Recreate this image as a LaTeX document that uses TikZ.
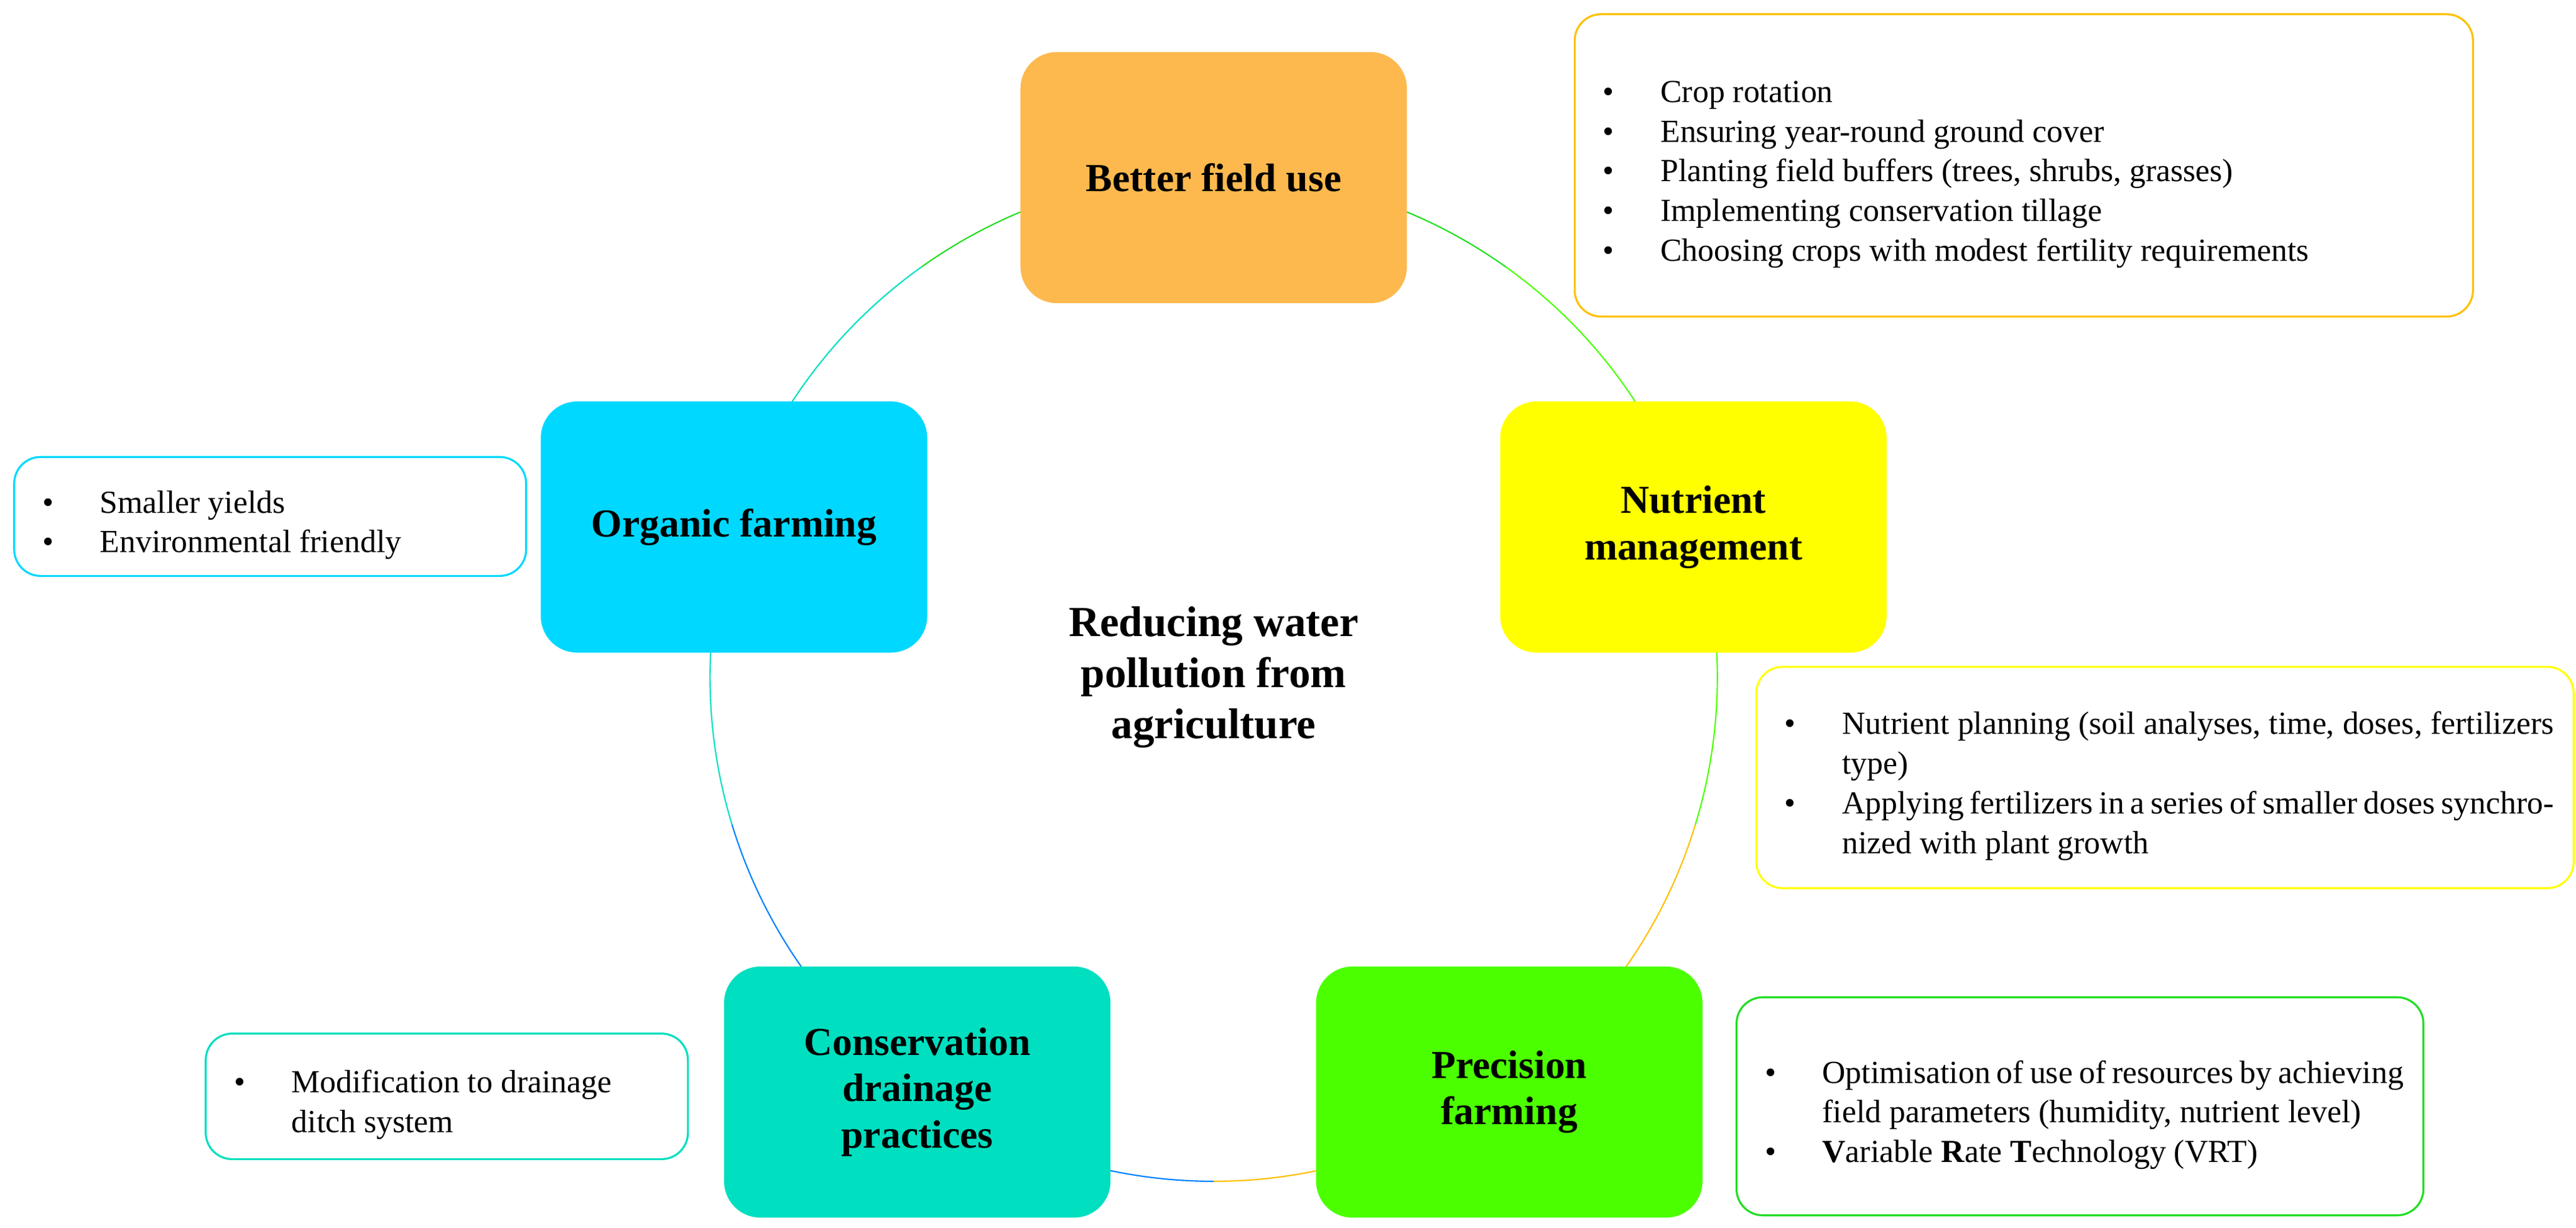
\documentclass[tikz,border=0pt]{standalone}
\usepackage{fontspec}
\setmainfont{Liberation Serif}
\usepackage{enumitem}
\begin{document}
\begin{tikzpicture}[x=1pt,y=-1pt,
  cat/.style={rounded corners=22pt,minimum width=234pt,minimum height=152pt,align=center,font=\fontsize{24}{28}\selectfont\bfseries,inner sep=0pt},
  tb/.style={draw,rounded corners=16pt,line width=1.2pt,inner xsep=12pt,inner ysep=6pt,font=\fontsize{19.5}{24}\selectfont,align=justify},
  arc/.style={line width=0.8pt}]
\useasboundingbox (0,0) rectangle (1560,743);
\definecolor{cor}{HTML}{FDB94E}
\definecolor{cye}{HTML}{FFFF00}
\definecolor{ccy}{HTML}{00D8FF}
\definecolor{cte}{HTML}{00DFC0}
\definecolor{cgr}{HTML}{4CFF00}
\definecolor{bor}{HTML}{FFC000}
\definecolor{bgr}{HTML}{22DD22}
\coordinate (c) at (735,410);
\draw[arc,color=ccy!60!blue] (c) ++(163:305) arc[start angle=163,end angle=90,radius=305];
\draw[arc,color=bor] (c) ++(90:305) arc[start angle=90,end angle=17,radius=305];
\draw[arc,color=cgr] (c) ++(17:305) arc[start angle=17,end angle=-54.5,radius=305];
\draw[arc,color=bgr] (c) ++(-54.5:305) arc[start angle=-54.5,end angle=-125.5,radius=305];
\draw[arc,color=cte] (c) ++(-125.5:305) arc[start angle=-125.5,end angle=-197,radius=305];
\node[cat,fill=cor] (bf) at (735,107.5) {Better field use};
\node[cat,fill=cye] (nm) at (1025.5,319) {Nutrient\\management};
\node[cat,fill=ccy] (of) at (444.5,319) {Organic farming};
\node[cat,fill=cte] (cd) at (555.5,661) {Conservation\\drainage\\practices};
\node[cat,fill=cgr] (pf) at (914,661) {Precision\\farming};
\node[font=\fontsize{26}{31}\selectfont\bfseries,align=center] (ctr) at (735,410) {Reducing water\\pollution from\\agriculture};
\newcommand{\blist}[1]{\begin{itemize}[leftmargin=40pt,labelsep=28pt,itemsep=0pt,topsep=0pt,parsep=0pt,partopsep=0pt,label=\textbullet]#1\end{itemize}}
\node[tb,draw=bor,text width=520pt,minimum height=183pt,anchor=north west] (t1) at (953,8) {\blist{\item Crop rotation
\item Ensuring year-round ground cover
\item Planting field buffers (trees, shrubs, grasses)
\item Implementing conservation tillage
\item Choosing crops with modest fertility requirements}};
\node[tb,draw=ccy,text width=286pt,minimum height=72pt,anchor=north west] (t2) at (8,276) {\blist{\item Smaller yields
\item Environmental friendly}};
\node[tb,draw=cye,text width=471pt,minimum height=134pt,anchor=north west] (t3) at (1063,403) {\blist{\item Nutrient planning (soil analyses, time, doses, fertilizers type)
\item Applying fertilizers in a series of smaller doses synchronized with plant growth}};
\node[tb,draw=cte,text width=268pt,minimum height=76pt,anchor=north west] (t4) at (124,625) {\blist{\item \raggedright Modification to drainage ditch system}};
\node[tb,draw=bgr,text width=392pt,minimum height=132pt,anchor=north west] (t5) at (1051,603) {\blist{\item Optimisation of use of resources by achieving field parameters (humidity, nutrient level)
\item \textbf{V}ariable \textbf{R}ate \textbf{T}echnology (VRT)}};
\end{tikzpicture}
\end{document}
